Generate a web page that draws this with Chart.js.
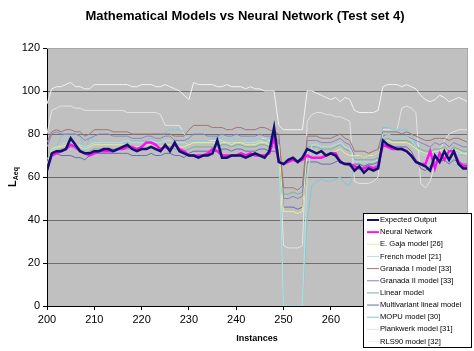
<!DOCTYPE html>
<html>
<head>
<meta charset="utf-8">
<script src="https://cdn.jsdelivr.net/npm/chart.js@4/dist/chart.umd.min.js"></script>
<style>
  body { margin: 0; background: #fff; }
</style>
</head>
<body>
<canvas id="models-chart" width="474" height="351"></canvas>
<script>
const instances = [
  200,201,202,203,204,205,206,207,208,209, 210,211,212,213,214,215,216,217,218,219,
  220,221,222,223,224,225,226,227,228,229, 230,231,232,233,234,235,236,237,238,239,
  240,241,242,243,244,245,246,247,248,249, 250,251,252,253,254,255,256,257,258,259,
  260,261,262,263,264,265,266,267,268,269, 270,271,272,273,274,275,276,277,278,279,
  280,281,282,283,284,285,286,287,288,289
]

const expectedOutput = [
  63,71,72,72,73,78,75,72,71,71, 72,72,73,73,72,73,74,75,73,72,
  73,73,74,73,72,75,72,76,72,71, 70,70,69,70,70,71,77,69,69,70,
  70,70,69,70,71,70,69,72,83,67, 66,68,69,67,69,73,72,71,72,70,
  71,70,67,66,66,63,65,62,64,63, 64,77,75,74,73,73,72,70,67,66,
  65,63,70,67,72,68,72,66,64,64
]
const neuralNetwork = [
  64,70,71,72,73,75,74,72,71,70, 71,72,72,72,72,73,73,74,74,73,
  74,76,76,75,73,74,73,75,73,72, 70,70,70,70,71,73,72,70,70,70,
  70,71,70,71,70,70,70,71,78,67, 66,67,68,67,68,70,69,69,69,70,
  71,71,67,66,66,65,64,64,65,64, 65,75,74,73,73,73,72,70,67,66,
  66,72,64,71,68,72,72,67,65,65
]
const eGaja = [
  66,73,74,74,75,75,75,74,73,74, 75,75,75,75,75,75,75,75,74,74,
  74,75,75,75,74,75,75,74,74,74, 75,76,76,76,76,76,75,76,76,75,
  76,76,75,75,75,76,76,75,75,74, 44,44,44,43,44,72,72,72,71,71,
  71,72,73,71,70,70,70,69,70,70, 71,76,77,76,76,76,76,75,73,72,
  71,71,72,72,73,71,73,72,71,71
]
const french = [
  66,72,73,75,76,76,75,75,74,75, 76,76,76,76,76,76,76,77,76,76,
  76,76,77,76,76,77,77,76,76,76, 75,76,76,76,76,76,76,77,76,76,
  76,76,76,76,76,77,76,76,76,75, 0,0,0,0,0,60,75,75,74,74,
  74,75,76,74,73,67,67,67,67,67, 68,80,80,79,79,79,79,77,74,71,
  70,69,71,71,72,71,72,71,71,70
]
const granadaI = [
  76,81,82,81,82,82,81,81,79,80, 82,82,82,82,81,81,81,81,80,80,
  80,80,80,80,80,80,80,79,79,79, 82,84,84,84,84,83,83,83,82,82,
  83,83,82,82,82,83,83,82,81,80, 55,55,55,54,56,79,79,79,78,78,
  78,79,80,78,77,72,72,72,71,72, 73,81,81,81,81,80,81,80,79,78,
  77,77,78,78,78,77,78,78,77,76
]
const granadaII = [
  74,80,81,80,80,80,80,79,77,78, 79,80,80,80,79,79,79,79,78,78,
  78,79,79,78,78,79,79,77,77,77, 78,80,80,80,79,79,79,80,79,79,
  80,79,79,79,79,80,79,79,78,77, 50,50,51,50,51,77,77,77,76,76,
  76,77,78,76,75,70,70,69,70,70, 71,79,80,79,79,79,79,78,77,76,
  75,74,76,75,76,74,76,75,74,74
]
const linearModel = [
  65,72,72,73,73,74,73,72,71,72, 73,73,73,73,73,73,73,73,73,73,
  73,73,74,73,73,74,74,73,73,72, 73,74,74,74,74,74,74,75,75,74,
  75,75,74,74,74,75,75,74,74,73, 52,52,53,52,53,74,74,74,73,73,
  73,74,75,73,72,68,68,68,68,68, 69,77,78,77,77,77,77,76,74,73,
  72,72,73,73,74,72,74,73,72,72
]
const multivariant = [
  65,70,71,70,70,70,69,69,68,70, 71,71,71,71,71,71,71,71,70,70,
  70,70,71,70,70,71,71,70,70,69, 71,72,72,72,72,72,72,73,73,72,
  73,73,72,72,72,73,73,72,72,71, 46,46,46,45,46,67,67,67,66,66,
  66,67,68,66,65,66,66,65,66,66, 67,74,75,74,74,74,74,72,68,64,
  63,65,67,67,68,66,68,67,66,66
]
const mopu = [
  68,73,74,79,80,80,80,79,72,78, 77,76,76,76,76,76,76,76,77,77,
  77,77,78,77,77,81,82,82,82,81, 77,77,77,77,77,78,78,78,78,77,
  78,78,77,77,78,78,77,78,77,76, 0,0,0,0,0,40,56,58,59,58,
  58,59,60,57,56,64,65,65,66,65, 66,83,83,82,82,82,82,80,75,72,
  70,70,72,71,72,70,73,71,70,70
]
const plankwerk = [
  80,91,92,93,93,93,92,92,91,91, 91,91,91,91,91,91,91,90,90,90,
  90,90,90,90,89,84,84,84,84,80, 77,77,77,77,77,77,77,78,78,77,
  78,78,77,77,78,78,78,77,77,76, 28,27,27,27,28,86,89,90,90,89,
  89,88,88,87,86,58,57,57,57,58, 60,82,82,82,82,92,93,92,90,57,
  55,58,66,72,77,80,81,82,82,82
]
const rls90 = [
  94,101,102,102,103,104,102,102,101,101, 103,103,103,103,103,103,103,103,102,102,
  103,103,103,102,102,103,102,101,100,98, 96,104,103,103,103,103,102,102,103,102,
  102,102,101,102,101,101,100,100,100,84, 82,82,82,82,82,100,100,99,98,97,
  96,97,95,97,96,91,90,90,90,90, 91,102,103,103,103,102,103,102,101,98,
  96,95,96,98,97,95,96,97,96,95
]

const yTicks = [0, 20, 40, 60, 80, 100, 120]
const xTicks = [200, 210, 220, 230, 240, 250, 260, 270, 280]

const seriesNames = ['Expected Output', 'Neural Network', 'E. Gaja model [26]', 'French model [21]',
  'Granada I model [33]', 'Granada II model [33]', 'Linear model', 'Multivariant lineal model',
  'MOPU model [30]', 'Plankwerk model [31]', 'RLS90 model [32]']
const seriesValues = [expectedOutput, neuralNetwork, eGaja, french, granadaI, granadaII,
  linearModel, multivariant, mopu, plankwerk, rls90]

const seriesColors = ['#101070', '#ff10f0', '#ecec8c', '#aee4dc', '#a07474', '#8484c4',
  '#76b0a2', '#6a6ab0', '#7ccad8', '#e4e4e4', '#f2f2f2']
const seriesWidths = [2.5, 2.5, 1, 1, 1, 1, 1, 1, 1, 1, 1]

const fontFamily = '"Liberation Sans", Arial, sans-serif'
Chart.defaults.font.family = fontFamily
Chart.defaults.color = '#000'

const datasets = seriesNames.map((name, i) => ({
  label: name,
  data: seriesValues[i].map((v, j) => ({ x: instances[j], y: v })),
  borderColor: seriesColors[i],
  backgroundColor: seriesColors[i],
  borderWidth: seriesWidths[i],
  pointRadius: 0,
  tension: 0
}))

const plotBackground = {
  id: 'plotBackground',
  beforeDraw(chart) {
    const { ctx, chartArea } = chart
    ctx.save()
    ctx.fillStyle = '#c0c0c0'
    ctx.fillRect(chartArea.left, chartArea.top, chartArea.right - chartArea.left, chartArea.bottom - chartArea.top)
    ctx.restore()
  }
}

const chartTexts = {
  id: 'chartTexts',
  afterDraw(chart) {
    const { ctx, chartArea } = chart
    ctx.save()

    // light border of the plot area
    ctx.strokeStyle = '#a8a8a8'
    ctx.lineWidth = 1
    ctx.beginPath()
    ctx.moveTo(chartArea.left, chartArea.top + 0.5)
    ctx.lineTo(chartArea.right - 0.5, chartArea.top + 0.5)
    ctx.lineTo(chartArea.right - 0.5, chartArea.bottom)
    ctx.stroke()

    ctx.fillStyle = '#000'
    ctx.textAlign = 'center'
    ctx.textBaseline = 'middle'
    ctx.font = `bold 13px ${fontFamily}`
    ctx.fillText('Mathematical Models vs Neural Network (Test set 4)', 245, 16)

    ctx.font = `bold 9px ${fontFamily}`
    ctx.fillText('Instances', 257, 339)

    // y title: L with subscript Aeq
    ctx.translate(12, 177)
    ctx.rotate(-Math.PI / 2)
    ctx.textAlign = 'left'
    ctx.textBaseline = 'alphabetic'
    ctx.font = `bold 11px ${fontFamily}`
    const lWidth = ctx.measureText('L').width
    ctx.font = `bold 7px ${fontFamily}`
    const subWidth = ctx.measureText('Aeq').width
    const startX = -(lWidth + subWidth) / 2
    ctx.font = `bold 11px ${fontFamily}`
    ctx.fillText('L', startX, 4)
    ctx.font = `bold 7px ${fontFamily}`
    ctx.fillText('Aeq', startX + lWidth, 6)
    ctx.restore()

    // legend box
    ctx.save()
    const boxX = 363, boxY = 213, boxW = 108, boxH = 134
    ctx.fillStyle = '#fff'
    ctx.fillRect(boxX, boxY, boxW, boxH)
    ctx.strokeStyle = '#000'
    ctx.lineWidth = 1
    ctx.strokeRect(boxX + 0.5, boxY + 0.5, boxW, boxH)
    ctx.font = `7.6px ${fontFamily}`
    ctx.textAlign = 'left'
    ctx.textBaseline = 'middle'
    chart.data.datasets.forEach((ds, i) => {
      const y = boxY + 7 + i * 12.15
      ctx.strokeStyle = ds.borderColor
      ctx.lineWidth = ds.borderWidth > 1 ? 2 : 1
      ctx.beginPath()
      ctx.moveTo(boxX + 4, y)
      ctx.lineTo(boxX + 16, y)
      ctx.stroke()
      ctx.fillStyle = '#000'
      ctx.fillText(ds.label, boxX + 17, y)
    })
    ctx.restore()
  }
}

const modelsChart = new Chart(document.getElementById('models-chart'), {
  type: 'line',
  data: { datasets },
  options: {
    responsive: false,
    animation: false,
    layout: { padding: { top: 48, right: 6, left: 0, bottom: 0 } },
    plugins: {
      legend: { display: false },
      title: { display: false },
      tooltip: { enabled: false }
    },
    scales: {
      x: {
        type: 'linear',
        min: 200,
        max: 289,
        afterFit: (scale) => { scale.height = 45 },
        afterBuildTicks: (scale) => { scale.ticks = xTicks.map(v => ({ value: v })) },
        border: { color: '#000', width: 1 },
        grid: { drawOnChartArea: false, tickLength: 4, tickColor: '#000' },
        ticks: { font: { size: 11 }, padding: 3, maxRotation: 0, color: '#000' }
      },
      y: {
        min: 0,
        max: 120,
        afterFit: (scale) => { scale.width = 47 },
        afterBuildTicks: (scale) => { scale.ticks = yTicks.map(v => ({ value: v })) },
        border: { color: '#000', width: 1 },
        grid: { color: '#6e6e6e', tickLength: 4, tickColor: '#000' },
        ticks: { font: { size: 11 }, padding: 3, color: '#000' }
      }
    }
  },
  plugins: [plotBackground, chartTexts]
})
</script>
</body>
</html>
